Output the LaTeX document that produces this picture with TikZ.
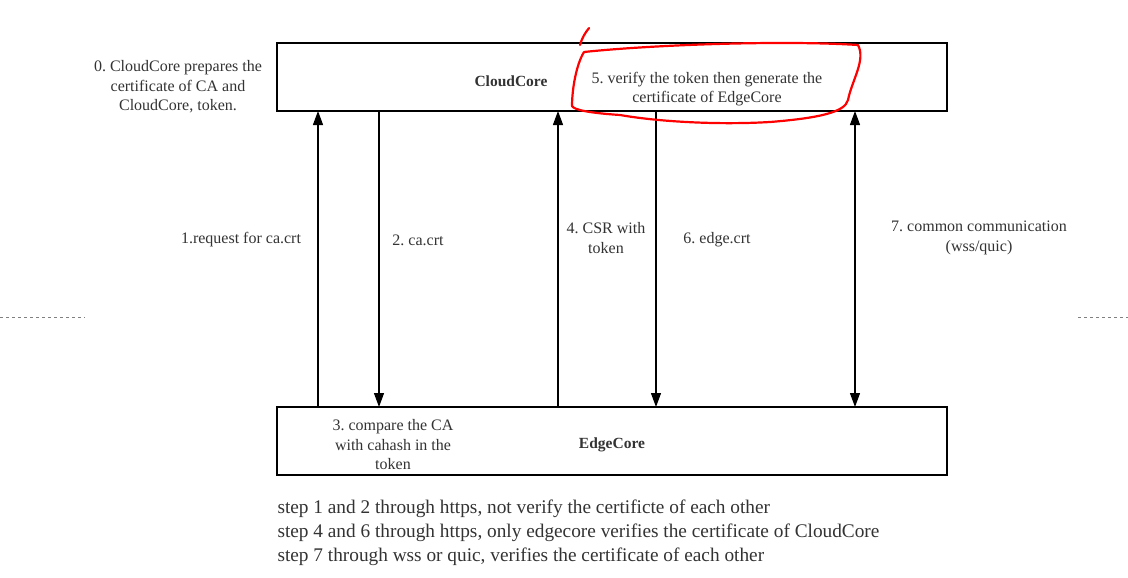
\documentclass[tikz,border=0pt]{standalone}
\usepackage{fontspec}
\setmainfont{Liberation Serif}
\frenchspacing
\usetikzlibrary{arrows.meta}
\definecolor{txt}{HTML}{333333}
\begin{document}
\begin{tikzpicture}[x=1pt,y=-1pt,
  box/.style={draw,line width=1.3pt,minimum width=670pt,minimum height=68pt,inner sep=0},
  lbl/.style={font=\fontsize{16}{19.5}\selectfont,align=center,text=txt},
  arr/.style={line width=1.2pt,-{Triangle[length=14pt,width=10pt]}},
  note/.style={font=\fontsize{19.3}{24}\selectfont,anchor=west,text=txt}]
\useasboundingbox (0,0) rectangle (1128,578);
\fill[white] (0,0) rectangle (1128,578);
\node[box] (cc) at (612,77) {};
\node[box] (ec) at (612,441) {};
\node[lbl,font=\bfseries\fontsize{15.5}{18}\selectfont] (cct) at (511,81) {CloudCore};
\node[lbl,font=\bfseries\fontsize{15.5}{18}\selectfont] (ect) at (612,445) {EdgeCore};
\node[lbl] (n0) at (178,87) {0. CloudCore prepares the\\certificate of CA and\\CloudCore, token.};
\node[lbl] (n5) at (707,89) {5. verify the token then generate the\\certificate of EdgeCore};
\node[lbl] (n3) at (393,445) {3. compare the CA\\with cahash in the\\token};
\coordinate (a1b) at (318,407); \coordinate (a1t) at (318,111);
\coordinate (a2b) at (379,407); \coordinate (a2t) at (379,111);
\coordinate (a4b) at (558,407); \coordinate (a4t) at (558,111);
\coordinate (a6b) at (656,407); \coordinate (a6t) at (656,111);
\coordinate (a7b) at (855,407); \coordinate (a7t) at (855,111);
\draw[arr] (a1b) -- (a1t);
\draw[arr] (a2t) -- (a2b);
\draw[arr] (a4b) -- (a4t);
\draw[arr] (a6t) -- (a6b);
\draw[arr,{Triangle[length=14pt,width=10pt]}-{Triangle[length=14pt,width=10pt]}] (a7b) -- (a7t);
\node[lbl] (l1) at (241,240) {1.request for ca.crt};
\node[lbl] (l2) at (418,240) {2. ca.crt};
\node[lbl] (l4) at (606,238) {4. CSR with\\token};
\node[lbl] (l6) at (717,240) {6. edge.crt};
\node[lbl] (l7) at (979,238) {7. common communication\\(wss/quic)};
\node[note] (b1) at (274,509) {step 1 and 2 through https, not verify the certificte of each other};
\node[note] (b2) at (274,533) {step 4 and 6 through https, only edgecore verifies the certificate of CloudCore};
\node[note] (b3) at (274,557) {step 7 through wss or quic, verifies the certificate of each other};
\draw[gray,dashed,line width=0.8pt] (0,317) -- (85,317);
\draw[gray,dashed,line width=0.8pt] (1078,317) -- (1128,317);
\draw[red,line width=2.2pt,line cap=round,line join=round]
  (580,45) .. controls (582,38) and (585,33) .. (589,28);
\draw[red,line width=2.2pt,line cap=round,line join=round]
  (584,52) .. controls (650,45) and (780,40) .. (858,45)
  .. controls (866,60) and (852,80) .. (848,100)
  .. controls (845,112) and (820,118) .. (770,122)
  .. controls (720,125) and (660,122) .. (620,115)
  .. controls (590,113) and (574,110) .. (572,106)
  .. controls (572,90) and (576,65) .. (584,52);
\end{tikzpicture}
\end{document}
